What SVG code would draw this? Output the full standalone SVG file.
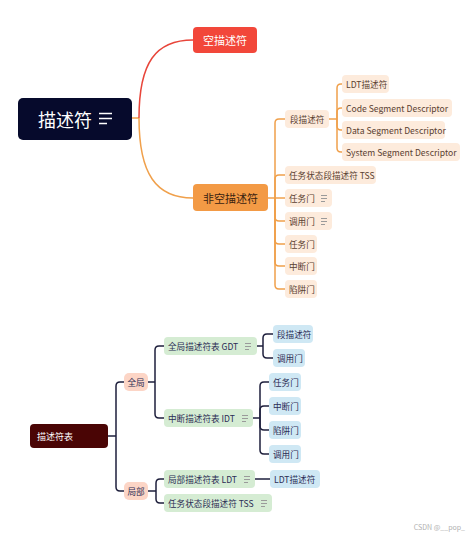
<svg xmlns="http://www.w3.org/2000/svg" width="474" height="536" viewBox="0 0 474 536">
<style>
text{font-family:"Noto Sans CJK SC","Noto Sans",sans-serif;dominant-baseline:central}
.or{fill:none;stroke:#f0a04b;stroke-width:1.5}
.dk{fill:none;stroke:#1e1f3c;stroke-width:1.5}
.peach{fill:#fdebdc}
.pt{font-size:8.6px;fill:#5a4030}
.green{fill:#d5ecd3}
.blue{fill:#cfe8f4}
.sal{fill:#fcd5c6}
.bt{font-size:8.6px;fill:#2c2d55}
.ic{fill:none;stroke:#9a9a9a;stroke-width:1}
</style>
<rect width="474" height="536" fill="#ffffff"/>
<g id="connectors">
<path class="or" d="M132,118 H139"/>
<path fill="none" stroke="#e8453a" stroke-width="1.5" d="M139,118 C139,62 156,40 193,40"/>
<path class="or" d="M139,118 C139,174 156,198 193,198"/>
<path class="or" d="M268,198 H275"/>
<path class="or" d="M275,198 V123 Q275,119 279,119 H285"/>
<path class="or" d="M275,198 V179 Q275,175 279,175 H285"/>
<path class="or" d="M275,198 H285"/>
<path class="or" d="M275,198 V217 Q275,221 279,221 H285"/>
<path class="or" d="M275,198 V240 Q275,244 279,244 H285"/>
<path class="or" d="M275,198 V262 Q275,266 279,266 H285"/>
<path class="or" d="M275,198 V285 Q275,289 279,289 H285"/>
<path class="or" d="M329,119 H337"/>
<path class="or" d="M337,119 V88 Q337,84 341,84 H342"/>
<path class="or" d="M337,119 V112 Q337,108 341,108 H342"/>
<path class="or" d="M337,119 V126 Q337,130 341,130 H342"/>
<path class="or" d="M337,119 V148 Q337,152 341,152 H342"/>
<path class="dk" d="M108,436 H116"/>
<path class="dk" d="M116,436 V386 Q116,382 120,382 H124"/>
<path class="dk" d="M116,436 V487 Q116,491 120,491 H124"/>
<path class="dk" d="M148,382 H155"/>
<path class="dk" d="M155,382 V350 Q155,346 159,346 H164"/>
<path class="dk" d="M155,382 V414 Q155,418 159,418 H164"/>
<path class="dk" d="M148,491 H156"/>
<path class="dk" d="M156,491 V483 Q156,479 160,479 H164"/>
<path class="dk" d="M156,491 V499 Q156,503 160,503 H164"/>
<path class="dk" d="M257,346 H263"/>
<path class="dk" d="M263,346 V338 Q263,334 267,334 H273"/>
<path class="dk" d="M263,346 V354 Q263,358 267,358 H273"/>
<path class="dk" d="M253,418 H260"/>
<path class="dk" d="M260,418 V386 Q260,382 264,382 H269"/>
<path class="dk" d="M260,418 V410 Q260,406 264,406 H269"/>
<path class="dk" d="M260,418 V426 Q260,430 264,430 H269"/>
<path class="dk" d="M260,418 V450 Q260,454 264,454 H269"/>
<path class="dk" d="M255,479 H270"/>
</g>
<g id="root">
<rect x="18" y="98" width="114" height="42" rx="5" fill="#060a2c"/>
<text x="38" y="119" font-size="18" fill="#ffffff">描述符</text>
<path fill="none" stroke="#ffffff" stroke-width="1.5" d="M99,113.5 H112 M99,118.5 H112 M99,123.5 H107"/>
</g>
<g id="empty">
<rect x="193" y="27" width="64" height="26" rx="4" fill="#f2473a"/>
<text x="225" y="40" font-size="11" fill="#ffffff" text-anchor="middle">空描述符</text>
</g>
<g id="nonempty">
<rect x="193" y="184" width="75" height="27" rx="4" fill="#f39a45"/>
<text x="230.5" y="197.5" font-size="11" fill="#3a2210" text-anchor="middle">非空描述符</text>
</g>
<g id="seg">
<rect class="peach" x="285" y="110" width="44" height="18" rx="4"/>
<text class="pt" x="290" y="119">段描述符</text>
</g>
<g id="ldtdesc">
<rect class="peach" x="342" y="75" width="47" height="18" rx="4"/>
<text class="pt" x="346" y="84">LDT描述符</text>
</g>
<g id="codeseg">
<rect class="peach" x="342" y="99" width="110" height="18" rx="4"/>
<text class="pt" x="346" y="108">Code Segment Descriptor</text>
</g>
<g id="dataseg">
<rect class="peach" x="342" y="121" width="103" height="18" rx="4"/>
<text class="pt" x="346" y="130">Data Segment Descriptor</text>
</g>
<g id="sysseg">
<rect class="peach" x="342" y="143" width="118" height="18" rx="4"/>
<text class="pt" x="346" y="152">System Segment Descriptor</text>
</g>
<g id="tss1">
<rect class="peach" x="285" y="166" width="91" height="18" rx="4"/>
<text class="pt" x="289" y="175">任务状态段描述符 TSS</text>
</g>
<g id="taskgate1">
<rect class="peach" x="285" y="189" width="47" height="18" rx="4"/>
<text class="pt" x="289" y="198">任务门</text>
<path class="ic" d="M321,195.5 H327 M321,198.5 H327 M321,201.5 H325"/>
</g>
<g id="callgate1">
<rect class="peach" x="285" y="212" width="47" height="18" rx="4"/>
<text class="pt" x="289" y="221">调用门</text>
<path class="ic" d="M321,218.5 H327 M321,221.5 H327 M321,224.5 H325"/>
</g>
<g id="taskgate2">
<rect class="peach" x="285" y="235" width="32" height="18" rx="4"/>
<text class="pt" x="289" y="244">任务门</text>
</g>
<g id="intgate1">
<rect class="peach" x="285" y="257" width="32" height="18" rx="4"/>
<text class="pt" x="289" y="266">中断门</text>
</g>
<g id="trapgate1">
<rect class="peach" x="285" y="280" width="32" height="18" rx="4"/>
<text class="pt" x="289" y="289">陷阱门</text>
</g>
<g id="table">
<rect x="30" y="424" width="78" height="24" rx="4" fill="#4a0505"/>
<text x="37" y="436" font-size="9" fill="#ffffff">描述符表</text>
</g>
<g id="global">
<rect class="sal" x="124" y="373" width="24" height="18" rx="5"/>
<text class="bt" x="136" y="382" text-anchor="middle">全局</text>
</g>
<g id="local">
<rect class="sal" x="124" y="482" width="24" height="18" rx="5"/>
<text class="bt" x="136" y="491" text-anchor="middle">局部</text>
</g>
<g id="gdt">
<rect class="green" x="164" y="337" width="93" height="18" rx="4"/>
<text class="bt" x="168" y="346">全局描述符表 GDT</text>
<path class="ic" d="M245,343.5 H251 M245,346.5 H251 M245,349.5 H249"/>
</g>
<g id="idt">
<rect class="green" x="164" y="409" width="89" height="18" rx="4"/>
<text class="bt" x="168" y="418">中断描述符表 IDT</text>
<path class="ic" d="M242,415.5 H248 M242,418.5 H248 M242,421.5 H246"/>
</g>
<g id="ldt">
<rect class="green" x="164" y="470" width="91" height="18" rx="4"/>
<text class="bt" x="168" y="479">局部描述符表 LDT</text>
<path class="ic" d="M244,476.5 H250 M244,479.5 H250 M244,482.5 H248"/>
</g>
<g id="tss2">
<rect class="green" x="164" y="494" width="108" height="18" rx="4"/>
<text class="bt" x="168" y="503">任务状态段描述符 TSS</text>
<path class="ic" d="M261,500.5 H267 M261,503.5 H267 M261,506.5 H265"/>
</g>
<g id="seg2">
<rect class="blue" x="273" y="325" width="40" height="18" rx="4"/>
<text class="bt" x="277" y="334">段描述符</text>
</g>
<g id="callgate2">
<rect class="blue" x="273" y="349" width="32" height="18" rx="4"/>
<text class="bt" x="277" y="358">调用门</text>
</g>
<g id="taskgate3">
<rect class="blue" x="269" y="373" width="32" height="18" rx="4"/>
<text class="bt" x="273" y="382">任务门</text>
</g>
<g id="intgate2">
<rect class="blue" x="269" y="397" width="32" height="18" rx="4"/>
<text class="bt" x="273" y="406">中断门</text>
</g>
<g id="trapgate2">
<rect class="blue" x="269" y="421" width="32" height="18" rx="4"/>
<text class="bt" x="273" y="430">陷阱门</text>
</g>
<g id="callgate3">
<rect class="blue" x="269" y="445" width="32" height="18" rx="4"/>
<text class="bt" x="273" y="454">调用门</text>
</g>
<g id="ldtdesc2">
<rect class="blue" x="270" y="470" width="50" height="18" rx="4"/>
<text class="bt" x="274" y="479">LDT描述符</text>
</g>
<text x="465" y="527" font-size="7" fill="#b0b0b0" text-anchor="end">CSDN @__pop_</text>
</svg>
